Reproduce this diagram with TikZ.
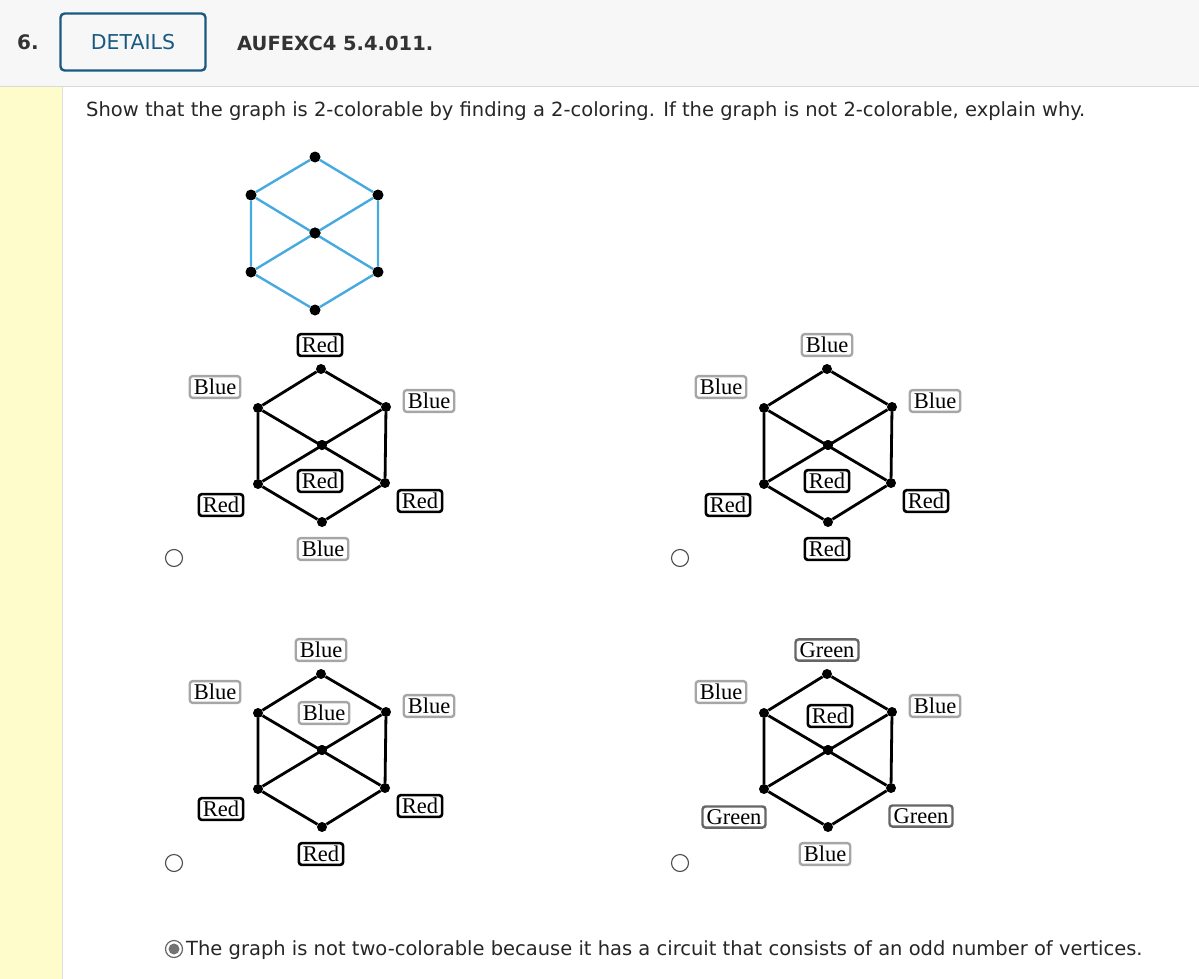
\documentclass[tikz,border=0pt]{standalone}
\usepackage{fontspec}
\setmainfont{DejaVu Sans}
\newfontfamily\lblfont{Liberation Serif}
\begin{document}
\begin{tikzpicture}[x=1pt,y=-1pt,
  vtx/.style={circle,fill=black,inner sep=0pt,minimum size=10pt},
  bvtx/.style={circle,fill=black,inner sep=0pt,minimum size=11pt},
  edge/.style={line width=2.8pt},
  bedge/.style={line width=2.4pt,draw={rgb,255:red,70;green,170;blue,225}},
  lbl/.style={rounded corners=3pt,inner xsep=4pt,inner ysep=3pt,font=\lblfont\fontsize{22.5}{22}\selectfont,fill=white},
  red/.style={lbl,draw=black,line width=2.6pt},
  blue/.style={lbl,draw=black!35,line width=2.4pt},
  green/.style={lbl,draw=black!60,line width=2.4pt},
  radio/.style={circle,draw=black!70,line width=1.1pt,minimum size=17pt,inner sep=0pt},
  txt/.style={font=\fontsize{19.5}{22}\selectfont,text=black!85,anchor=west,inner sep=0pt}]
\useasboundingbox (0,0) rectangle (1199,979);
\fill[black!3] (0,0) rectangle (1199,86);
\draw[black!15] (0,86) -- (1199,86);
\fill[yellow!20] (0,87) rectangle (62,979);
\draw[black!12] (62,87) -- (62,979);
\node[font=\bfseries\fontsize{20}{20}\selectfont,text=black!80] (num) at (28,42) {6.};
\node[draw={rgb,255:red,26;green,90;blue,130},line width=2.4pt,rounded corners=4pt,minimum width=145pt,minimum height=57pt,text={rgb,255:red,26;green,90;blue,130},font=\fontsize{20.5}{20}\selectfont] (det) at (133,42) {DETAILS};
\node[txt,font=\bfseries\fontsize{19.5}{20}\selectfont,text=black!80] (code) at (237,43) {AUFEXC4 5.4.011.};
\node[txt] (q) at (86,111) {Show that the graph is 2-colorable by finding a 2-coloring. If the graph is not 2-colorable, explain why.};
% top graph
\node[bvtx] (t) at (315,157) {}; \node[bvtx] (ul) at (251,195) {}; \node[bvtx] (ur) at (378,195) {};
\node[bvtx] (c) at (315,233) {}; \node[bvtx] (ll) at (251,272) {}; \node[bvtx] (lr) at (378,272) {};
\node[bvtx] (b) at (315,310) {};
\draw[bedge] (t)--(ul) (t)--(ur) (ul)--(ll) (ur)--(lr) (ul)--(lr) (ur)--(ll) (ll)--(b) (lr)--(b);
\node[bvtx] at (c) {};
\foreach \dx/\dy/\n in {0/0/a,506/0/b,0/305/c,506/305/d}{
  \begin{scope}[shift={(\dx,\dy)}]
  \node[vtx] (\n t) at (321,369) {}; \node[vtx] (\n ul) at (258,408) {}; \node[vtx] (\n ur) at (386,407) {};
  \node[vtx] (\n c) at (322,445) {}; \node[vtx] (\n ll) at (258,484) {}; \node[vtx] (\n lr) at (385,483) {};
  \node[vtx] (\n b) at (322,522) {};
  \draw[edge] (\n t)--(\n ul) (\n t)--(\n ur) (\n ul)--(\n ll) (\n ur)--(\n lr) (\n ul)--(\n lr) (\n ur)--(\n ll) (\n ll)--(\n b) (\n lr)--(\n b);
  \node[vtx] at (\n c) {};
  \node[radio] (\n radio) at (174,558) {};
  \end{scope}
}
\node[red] (a1) at (320,345) {Red};
\node[blue] (a2) at (215,387) {Blue};
\node[blue] (a3) at (429,401) {Blue};
\node[red] (a4) at (320,481) {Red};
\node[red] (a5) at (221,505) {Red};
\node[red] (a6) at (420,501) {Red};
\node[blue] (a7) at (323,549) {Blue};
\node[blue] (b1) at (827,345) {Blue};
\node[blue] (b2) at (721,387) {Blue};
\node[blue] (b3) at (935,401) {Blue};
\node[red] (b4) at (827,481) {Red};
\node[red] (b5) at (728,505) {Red};
\node[red] (b6) at (926,501) {Red};
\node[red] (b7) at (827,549) {Red};
\node[blue] (c1) at (321,650) {Blue};
\node[blue] (c2) at (215,692) {Blue};
\node[blue] (c3) at (324,713) {Blue};
\node[blue] (c4) at (429,706) {Blue};
\node[red] (c5) at (221,809) {Red};
\node[red] (c6) at (420,806) {Red};
\node[red] (c7) at (321,854) {Red};
\node[green] (d1) at (827,650) {Green};
\node[blue] (d2) at (721,692) {Blue};
\node[red] (d3) at (830,716) {Red};
\node[blue] (d4) at (935,706) {Blue};
\node[green] (d5) at (734,817) {Green};
\node[green] (d6) at (921,816) {Green};
\node[blue] (d7) at (825,854) {Blue};
\node[radio,draw=black!60,line width=1.2pt] (sel) at (174,949) {};
\fill[black!55] (sel.center) circle (5.5pt);
\node[txt] (ans) at (186,950) {The graph is not two-colorable because it has a circuit that consists of an odd number of vertices.};
\end{tikzpicture}
\end{document}
